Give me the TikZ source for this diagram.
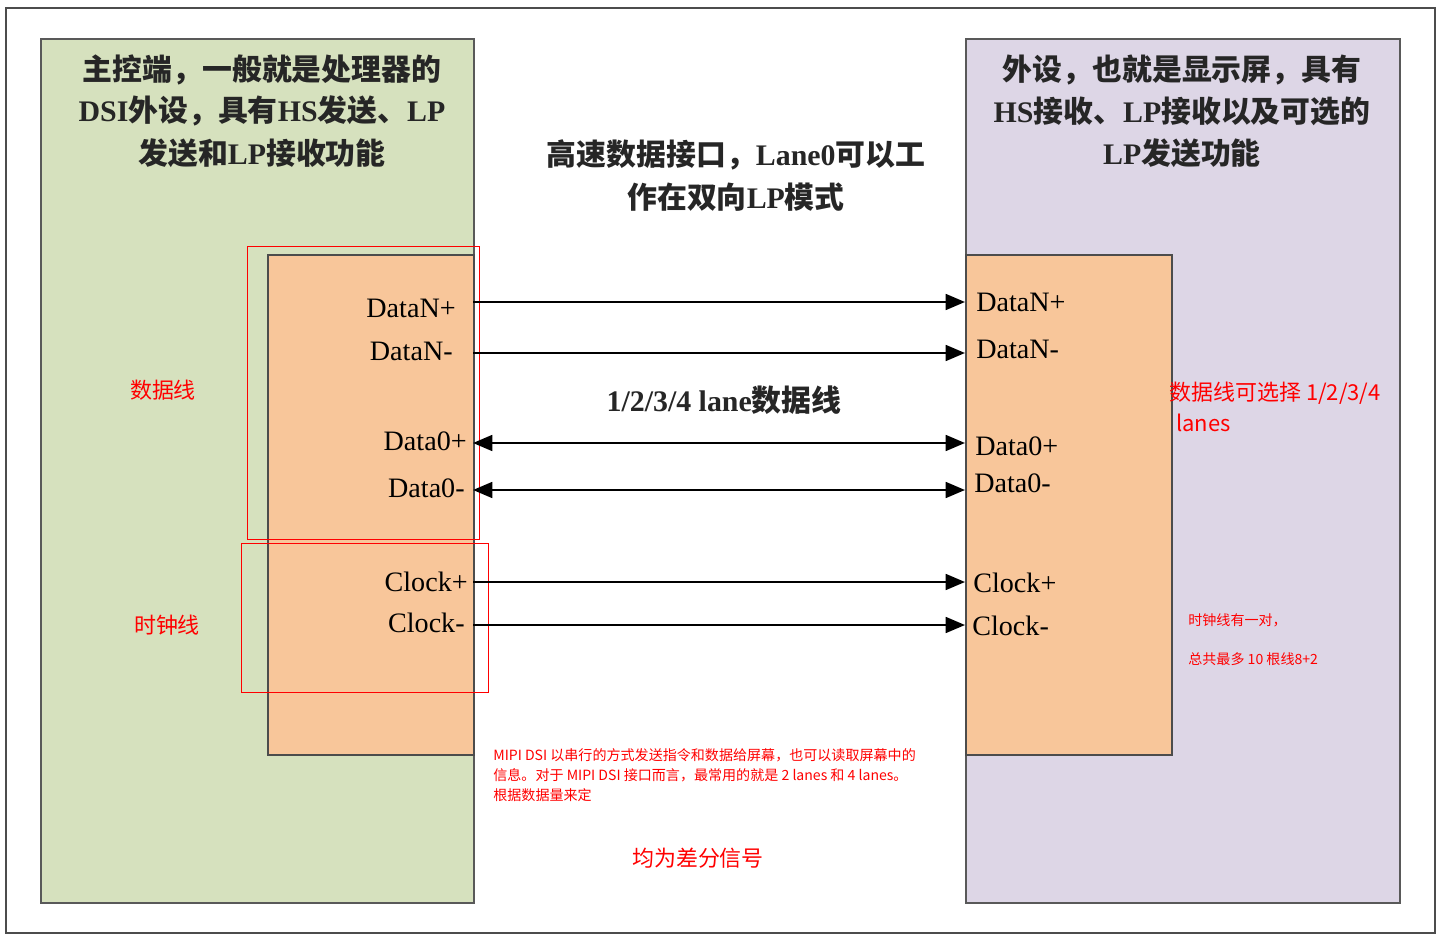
\documentclass[tikz,border=0pt]{standalone}
\usepackage{fontspec}
\setmainfont{Liberation Serif}
\newfontfamily\cjk{Noto Sans CJK SC}
\newfontfamily\cjkb{Noto Sans CJK SC Bold}[BoldFont={}]
\usetikzlibrary{arrows.meta}
\begin{document}
\begin{tikzpicture}[x=0.02cm,y=-0.02cm,
  panel/.style={draw=gray!70!black,line width=1pt},
  port/.style={draw=gray!60!black,line width=1pt,fill=orange!45!white,fill=portc},
  redbox/.style={draw=red,line width=0.8pt},
  hdr/.style={font=\fontsize{17}{21}\selectfont\bfseries,align=center,text=black!85},
  pl/.style={font=\fontsize{16}{18}\selectfont,inner sep=0},
  redl/.style={text=red,font=\cjk\fontsize{12.5}{15}\selectfont,inner sep=0},
  reds/.style={text=red,font=\cjk\fontsize{8}{11}\selectfont,inner sep=0,anchor=west},
  sig/.style={line width=1.3pt,-{Triangle[length=11pt,width=9pt]}},
  sigb/.style={line width=1.3pt,{Triangle[length=11pt,width=9pt]}-{Triangle[length=11pt,width=9pt]}}]
\definecolor{portc}{HTML}{F8C69A}
\useasboundingbox (0,0) rectangle (1442,936);
\node[draw=gray!60!black,line width=1.2pt,minimum width=1429*0.02cm,minimum height=925*0.02cm,anchor=north west,inner sep=0] (outer) at (5,7) {};
\node[panel,fill={rgb,255:red,214;green,225;blue,190},anchor=north west,minimum width=433*0.02cm,minimum height=864*0.02cm,inner sep=0] (lp) at (40,38) {};
\node[panel,fill={rgb,255:red,221;green,214;blue,230},anchor=north west,minimum width=434*0.02cm,minimum height=864*0.02cm,inner sep=0] (rp) at (965,38) {};
\node[port,anchor=north west,minimum width=206*0.02cm,minimum height=500*0.02cm,inner sep=0] (lb) at (267,254) {};
\node[port,anchor=north west,minimum width=206*0.02cm,minimum height=500*0.02cm,inner sep=0] (rb) at (965,254) {};
\node[redbox,anchor=north west,minimum width=232*0.02cm,minimum height=293*0.02cm,inner sep=0] (r1) at (247,246) {};
\node[redbox,anchor=north west,minimum width=247*0.02cm,minimum height=149*0.02cm,inner sep=0] (r2) at (241,543) {};
% headers
\node[hdr] (h1) at (262,70) {{\cjk\bfseries 主控端，一般就是处理器的}};
\node[hdr] (h2) at (262,111) {DSI{\cjk\bfseries 外设，具有}HS{\cjk\bfseries 发送、}LP};
\node[hdr] (h3) at (262,153) {{\cjk\bfseries 发送和}LP{\cjk\bfseries 接收功能}};
\node[hdr] (h4) at (1182,70) {{\cjk\bfseries 外设，也就是显示屏，具有}};
\node[hdr] (h5) at (1182,111) {HS{\cjk\bfseries 接收、}LP{\cjk\bfseries 接收以及可选的}};
\node[hdr] (h6) at (1182,153) {LP{\cjk\bfseries 发送功能}};
\node[hdr] (m1) at (736,155) {{\cjk\bfseries 高速数据接口，}Lane0{\cjk\bfseries 可以工}};
\node[hdr] (m2) at (736,197) {{\cjk\bfseries 作在双向}LP{\cjk\bfseries 模式}};
\node[hdr] (m3) at (724,400) {1/2/3/4 lane{\cjk\bfseries 数据线}};
% port labels
\node[pl,anchor=east] (l1) at (456,308) {DataN+};
\node[pl,anchor=east] (l2) at (453,351) {DataN-};
\node[pl,anchor=east] (l3) at (467,441) {Data0+};
\node[pl,anchor=east] (l4) at (465,488) {Data0-};
\node[pl,anchor=east] (l5) at (468,582) {Clock+};
\node[pl,anchor=east] (l6) at (465,623) {Clock-};
\node[pl,anchor=west] (q1) at (976,302) {DataN+};
\node[pl,anchor=west] (q2) at (976,349) {DataN-};
\node[pl,anchor=west] (q3) at (975,446) {Data0+};
\node[pl,anchor=west] (q4) at (974,483) {Data0-};
\node[pl,anchor=west] (q5) at (973,583) {Clock+};
\node[pl,anchor=west] (q6) at (972,626) {Clock-};
% connectors
\foreach \n/\y in {a/302,b/353,c/443,d/490,e/582,f/625}{
  \coordinate (s\n) at (473,\y); \coordinate (t\n) at (965,\y);}
\draw[sig] (sa) -- (ta);
\draw[sig] (sb) -- (tb);
\draw[sigb] (sc) -- (tc);
\draw[sigb] (sd) -- (td);
\draw[sig] (se) -- (te);
\draw[sig] (sf) -- (tf);
% red notes
\node[redl] (n1) at (163,390) {数据线};
\node[redl] (n2) at (167,625) {时钟线};
\node[redl,anchor=west] (n3) at (1169,393) {数据线可选择 1/2/3/4};
\node[redl,anchor=west] (n4) at (1176,423) {lanes};
\node[reds] (n5) at (1188,620) {时钟线有一对，};
\node[reds] (n6) at (1188,659) {总共最多 10 根线8+2};
\node[reds] (n7) at (493,755) {MIPI DSI 以串行的方式发送指令和数据给屏幕，也可以读取屏幕中的};
\node[reds] (n8) at (493,775) {信息。对于 MIPI DSI 接口而言，最常用的就是 2 lanes 和 4 lanes。};
\node[reds] (n9) at (493,795) {根据数据量来定};
\node[redl] (n10) at (698,858) {均为差分信号};
\end{tikzpicture}
\end{document}
